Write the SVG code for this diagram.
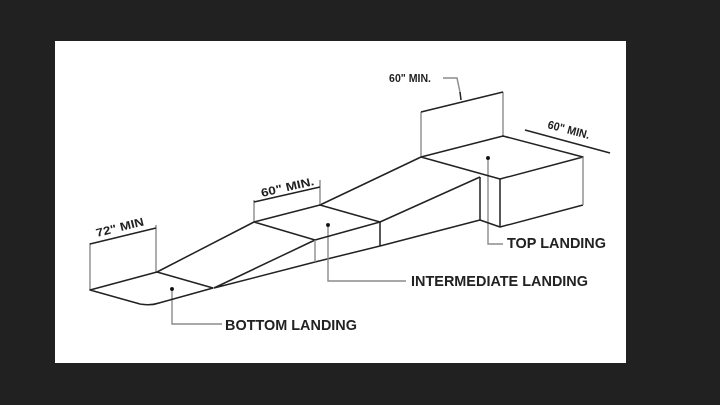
<svg xmlns="http://www.w3.org/2000/svg" width="720" height="405" viewBox="0 0 720 405">
<style>
.l{fill:none;stroke:#222;stroke-width:1.5;stroke-linejoin:round}
.g{fill:none;stroke:#8c8c8c;stroke-width:1.4}
.t{font-family:"Liberation Sans",Arial,sans-serif;font-weight:700;fill:#222}
.s{font-size:11.5px}
.b{font-size:14px}
.d{fill:#111}
</style>
<defs><filter id="soft" x="-5%" y="-5%" width="110%" height="110%"><feGaussianBlur stdDeviation="0.4"/></filter></defs>
<rect width="720" height="405" fill="#212121"/>
<rect x="55" y="41" width="571" height="322" fill="#fff"/>
<g filter="url(#soft)">
<g id="connectors">
<path class="l" d="M214 288L315 262L380 246L480 220M157 272L254 222M214 288L315 240M320 205L421 157M380 222L480 177"/>
<path class="g" d="M90 290V243M156 272V225M254 222V200M320 205V180M421 157V112M503 136V92"/>
<path class="l" d="M90 244L156 228M254 202L320 187M421 112L503 92M525 130L610 153"/>
<path class="g" d="M443 78H457L460 92"/><path class="l" d="M460 92L461 100"/>
<path class="g" d="M172 289V324H222M328 225V281H406M488 158V244H503"/>
</g>
<g id="bottom-landing">
<path class="l" d="M90 290L157 272L213 288L159 303Q150 306 140 304Z"/>
<circle class="d" cx="172" cy="289" r="2"/>
<text class="t b" x="225" y="330" textLength="132" lengthAdjust="spacingAndGlyphs">BOTTOM LANDING</text>
<text class="t s" transform="translate(97 237) rotate(-14)" textLength="49" lengthAdjust="spacingAndGlyphs">72" MIN</text>
</g>
<g id="intermediate-landing">
<path class="l" d="M254 222L320 205L380 222L315 240Z"/>
<path class="g" d="M315 240V262"/><path class="l" d="M380 222V246"/>
<circle class="d" cx="328" cy="225" r="2"/>
<text class="t b" x="411" y="286" textLength="177" lengthAdjust="spacingAndGlyphs">INTERMEDIATE LANDING</text>
<text class="t s" transform="translate(262 197) rotate(-13)" textLength="54" lengthAdjust="spacingAndGlyphs">60" MIN.</text>
</g>
<g id="top-landing">
<path class="l" d="M421 157L503 136L583 157L500 179Z"/>
<path class="l" d="M480 177V220L500 227L583 205"/>
<path class="l" d="M500 179V227"/><path class="g" d="M583 157V205"/>
<circle class="d" cx="488" cy="158" r="2"/>
<text class="t b" x="507" y="248" textLength="99" lengthAdjust="spacingAndGlyphs">TOP LANDING</text>
<text class="t s" x="389" y="82" textLength="42" lengthAdjust="spacingAndGlyphs">60" MIN.</text>
<text class="t s" transform="translate(547 128) rotate(15)" textLength="43" lengthAdjust="spacingAndGlyphs">60" MIN.</text>
</g>
</g>
</svg>
